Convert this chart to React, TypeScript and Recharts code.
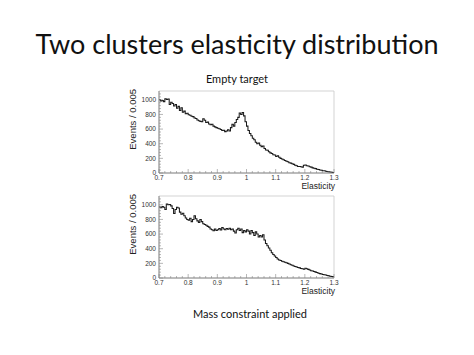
import { LineChart, Line, XAxis, YAxis, ReferenceArea } from 'recharts';

// histogram binning (Events / 0.005)
const binLow = 0.7;
const binWidth = 0.005;

const emptyTarget = [
    1000, 985, 990, 975, 1015, 1005, 1010, 935, 965, 950,
    915, 935, 885, 910, 855, 890, 830, 845, 810, 815,
    795, 790, 775, 770, 750, 745, 725, 715, 705, 700,
    740, 720, 690, 695, 670, 660, 665, 640, 630, 620,
    610, 605, 595, 580, 585, 565, 575, 590, 575, 620,
    665, 640, 690, 730, 760, 820, 800, 825, 780, 700,
    640, 580, 540, 510, 475, 455, 420, 400, 410, 380,
    360, 370, 335, 315, 310, 290, 275, 265, 250, 245,
    225, 235, 215, 200, 190, 180, 170, 160, 155, 140,
    135, 125, 118, 105, 100, 88, 90, 85, 80, 105,
    110, 100, 95, 85, 80, 70, 65, 60, 52, 48,
    42, 38, 32, 30, 25, 20, 18, 14, 10, 8,
];

const massConstraint = [
    970, 960, 975, 965, 935, 1010, 1000, 1005, 985, 950,
    880, 935, 965, 955, 900, 870, 885, 850, 820, 800,
    790, 815, 770, 800, 850, 810, 780, 760, 800, 770,
    740, 730, 720, 705, 695, 670, 660, 645, 670, 650,
    660, 675, 655, 690, 670, 660, 675, 665, 680, 660,
    670, 640, 615, 660, 680, 650, 670, 620, 650, 630,
    660, 640, 600, 650, 620, 580, 630, 600, 560, 580,
    560, 590, 520, 470, 440, 410, 380, 345, 320, 300,
    280, 260, 245, 240, 230, 222, 215, 208, 200, 192,
    182, 175, 165, 158, 150, 143, 138, 130, 125, 120,
    132, 125, 118, 110, 100, 95, 88, 80, 74, 66,
    60, 54, 48, 44, 40, 34, 30, 25, 20, 16,
];

const xTicks = [
    0.7, 0.72, 0.74, 0.76, 0.78, 0.8, 0.82, 0.84, 0.86, 0.88,
    0.9, 0.92, 0.94, 0.96, 0.98, 1, 1.02, 1.04, 1.06, 1.08,
    1.1, 1.12, 1.14, 1.16, 1.18, 1.2, 1.22, 1.24, 1.26, 1.28, 1.3,
];
const xLabels = [0.7, 0.8, 0.9, 1, 1.1, 1.2, 1.3];
const yTicks = [
    0, 40, 80, 120, 160, 200, 240, 280, 320, 360, 400, 440, 480, 520, 560,
    600, 640, 680, 720, 760, 800, 840, 880, 920, 960, 1000, 1040, 1080,
];
const yLabels = [0, 200, 400, 600, 800, 1000];

const W = 474;
const H = 355;
const yMax = 1120;
const tickFont = { fontFamily: 'Liberation Sans, Arial', fontSize: 6.5, fill: '#333' };

function toSteps(values: number[]) {
    const pts = values.map((v, i) => ({ x: +(binLow + i * binWidth).toFixed(3), n: v }));
    pts.push({ x: +(binLow + values.length * binWidth).toFixed(3), n: values[values.length - 1] });
    return pts;
}

function XTick({ x, y, payload }: any) {
    const major = xLabels.some((l) => Math.abs(l - payload.value) < 1e-6);
    return (
        <g>
            <line x1={x} x2={x} y1={y} y2={y - (major ? 4 : 2)} stroke="#888" strokeWidth={0.6} />
            {major && (
                <text x={x} y={y + 6.5} textAnchor="middle" {...tickFont}>{String(payload.value)}</text>
            )}
        </g>
    );
}

function YTick({ x, y, payload }: any) {
    const major = yLabels.includes(payload.value);
    return (
        <g>
            <line x1={x} x2={x + (major ? 4 : 2)} y1={y} y2={y} stroke="#888" strokeWidth={0.6} />
            {major && (
                <text x={x - 3} y={y + 2.3} textAnchor="end" {...tickFont}>{payload.value}</text>
            )}
        </g>
    );
}

function Histo({ values, top }: { values: number[]; top: number }) {
    const data = toSteps(values);
    return (
        <div style={{ position: 'absolute', left: 0, top, width: W, height: 110 }}>
            <LineChart width={W} height={110} data={data} margin={{ top: 6, right: 140, left: 139, bottom: 0 }}>
                <ReferenceArea x1={0.7} x2={1.3} y1={0} y2={yMax} fill="none" stroke="#c8c8c8" strokeWidth={0.8} ifOverflow="visible" />
                <XAxis
                    type="number"
                    dataKey="x"
                    domain={[0.7, 1.3]}
                    ticks={xTicks}
                    interval={0}
                    allowDataOverflow
                    height={22}
                    tickSize={0}
                    tickMargin={0}
                    tick={<XTick />}
                    axisLine={{ stroke: '#777', strokeWidth: 0.8 }}
                />
                <YAxis
                    type="number"
                    domain={[0, yMax]}
                    ticks={yTicks}
                    interval={0}
                    allowDataOverflow
                    width={20}
                    tickSize={0}
                    tickMargin={0}
                    tick={<YTick />}
                    axisLine={{ stroke: '#777', strokeWidth: 0.8 }}
                />
                <Line
                    type="stepAfter"
                    dataKey="n"
                    stroke="#1a1a1a"
                    strokeWidth={1.05}
                    dot={false}
                    activeDot={false}
                    isAnimationActive={false}
                />
            </LineChart>
        </div>
    );
}

export default function App() {
    const axisTitle = { fontFamily: 'Liberation Sans, Arial', fill: '#222' };
    return (
        <div style={{ position: 'absolute', left: 0, top: 0, width: W, height: H, background: '#fff' }}>
            <Histo values={emptyTarget} top={85} />
            <Histo values={massConstraint} top={190} />
            <svg width={W} height={H} style={{ position: 'absolute', left: 0, top: 0, pointerEvents: 'none' }}>
                <text x={237} y={54} textAnchor="middle" fontFamily="Lato" fontSize={27} fill="#111">
                    Two clusters elasticity distribution
                </text>
                <text x={237} y={83} textAnchor="middle" fontFamily="Lato" fontSize={11} fill="#111">
                    Empty target
                </text>
                <text x={250} y={318} textAnchor="middle" fontFamily="Lato" fontSize={11} fill="#111">
                    Mass constraint applied
                </text>
                <text transform="translate(135.5,89) rotate(-90)" textAnchor="end" fontSize={9.5} {...axisTitle}>Events / 0.005</text>
                <text transform="translate(135.5,194) rotate(-90)" textAnchor="end" fontSize={9.5} {...axisTitle}>Events / 0.005</text>
                <text x={335} y={189} textAnchor="end" fontSize={8.5} {...axisTitle}>Elasticity</text>
                <text x={335} y={293.5} textAnchor="end" fontSize={8.5} {...axisTitle}>Elasticity</text>
            </svg>
        </div>
    );
}
